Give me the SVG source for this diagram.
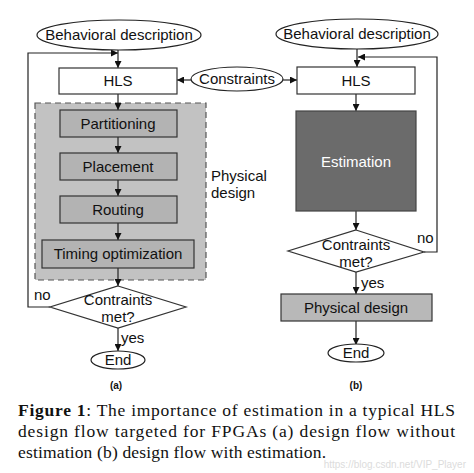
<svg xmlns="http://www.w3.org/2000/svg" width="474" height="473" viewBox="0 0 474 473">
<style>
.lbl{font-family:"Liberation Sans",Arial,sans-serif;font-size:15px;fill:#111;text-anchor:middle}
.ln{stroke:#222;stroke-width:1.2;fill:none}
.ell{fill:#fff;stroke:#222;stroke-width:1.2}
.wbox{fill:#fff;stroke:#333;stroke-width:1.2}
.gbox{fill:#b3b3b3;stroke:#333;stroke-width:1.2}
.cap{font-family:"Liberation Serif","Times New Roman",serif;font-size:17.5px;fill:#111}
</style>
<defs>
<marker id="ah" viewBox="0 0 10 10" refX="10" refY="5" markerWidth="7" markerHeight="7" orient="auto" markerUnits="userSpaceOnUse">
<path d="M0,0 L10,5 L0,10 z" fill="#111"/>
</marker>
</defs>
<rect width="474" height="473" fill="#fff"/>

<!-- Physical design region (a) -->
<g id="physical-region">
<rect x="35" y="103" width="171" height="177" fill="#c2c2c2" stroke="#555" stroke-width="1.2" stroke-dasharray="6,4"/>
<text class="lbl" x="211" y="181" style="text-anchor:start">Physical</text>
<text class="lbl" x="211" y="198" style="text-anchor:start">design</text>
</g>

<g id="connectors">
<!-- (a) -->
<line class="ln" x1="118" y1="50" x2="118" y2="68" marker-end="url(#ah)"/>
<polyline class="ln" points="50,307 28,307 28,53 118,53" marker-end="url(#ah)"/>
<line class="ln" x1="191" y1="80" x2="177" y2="80" marker-end="url(#ah)"/>
<line class="ln" x1="118" y1="94" x2="118" y2="110" marker-end="url(#ah)"/>
<line class="ln" x1="118" y1="137" x2="118" y2="153" marker-end="url(#ah)"/>
<line class="ln" x1="118" y1="180" x2="118" y2="196" marker-end="url(#ah)"/>
<line class="ln" x1="118" y1="223" x2="118" y2="240" marker-end="url(#ah)"/>
<line class="ln" x1="118" y1="268" x2="118" y2="286" marker-end="url(#ah)"/>
<line class="ln" x1="118" y1="328" x2="118" y2="351" marker-end="url(#ah)"/>
<!-- (b) -->
<line class="ln" x1="357" y1="49" x2="357" y2="67" marker-end="url(#ah)"/>
<line class="ln" x1="283" y1="80" x2="297" y2="80" marker-end="url(#ah)"/>
<polyline class="ln" points="424,252 437,252 437,57 358,57" marker-end="url(#ah)"/>
<line class="ln" x1="356" y1="94" x2="356" y2="111" marker-end="url(#ah)"/>
<line class="ln" x1="356" y1="211" x2="356" y2="230" marker-end="url(#ah)"/>
<line class="ln" x1="356" y1="272" x2="356" y2="294" marker-end="url(#ah)"/>
<line class="ln" x1="356" y1="321" x2="356" y2="345" marker-end="url(#ah)"/>
<text class="lbl" x="34" y="300" style="text-anchor:start">no</text>
<text class="lbl" x="121" y="343" style="text-anchor:start">yes</text>
<text class="lbl" x="417" y="243" style="text-anchor:start">no</text>
<text class="lbl" x="361" y="288" style="text-anchor:start">yes</text>
</g>

<g id="behav-a"><ellipse class="ell" cx="119" cy="35" rx="82" ry="15"/><text class="lbl" x="119" y="40">Behavioral description</text></g>
<g id="hls-a"><rect class="wbox" x="59" y="68" width="118" height="26"/><text class="lbl" x="118" y="86">HLS</text></g>
<g id="constraints"><ellipse class="ell" cx="237" cy="79" rx="46" ry="12"/><text class="lbl" x="237" y="84">Constraints</text></g>
<g id="partitioning"><rect class="gbox" x="60" y="110" width="117" height="27"/><text class="lbl" x="118" y="129">Partitioning</text></g>
<g id="placement"><rect class="gbox" x="60" y="153" width="117" height="27"/><text class="lbl" x="118" y="172">Placement</text></g>
<g id="routing"><rect class="gbox" x="60" y="196" width="117" height="27"/><text class="lbl" x="118" y="215">Routing</text></g>
<g id="timing"><rect class="gbox" x="42" y="240" width="152" height="28"/><text class="lbl" x="118" y="259">Timing optimization</text></g>
<g id="decision-a"><polygon points="118,286 186,307 118,328 50,307" fill="#fff" stroke="#333" stroke-width="1.2"/><text class="lbl" x="118" y="305">Contraints</text><text class="lbl" x="118" y="322">met?</text></g>
<g id="end-a"><ellipse class="ell" cx="118" cy="360" rx="27" ry="9"/><text class="lbl" x="118" y="365">End</text></g>
<text class="lbl" x="116" y="389" style="font-size:10px;font-weight:bold">(a)</text>

<g id="behav-b"><ellipse class="ell" cx="357" cy="34" rx="81" ry="15"/><text class="lbl" x="357" y="39">Behavioral description</text></g>
<g id="hls-b"><rect class="wbox" x="297" y="67" width="118" height="27"/><text class="lbl" x="356" y="86">HLS</text></g>
<g id="estimation"><rect x="296" y="111" width="120" height="100" fill="#6b6b6b" stroke="#444" stroke-width="1.2"/><text class="lbl" x="356" y="167" style="fill:#fff">Estimation</text></g>
<g id="decision-b"><polygon points="356,230 424,252 356,272 288,251" fill="#fff" stroke="#333" stroke-width="1.2"/><text class="lbl" x="356" y="250">Contraints</text><text class="lbl" x="356" y="267">met?</text></g>
<g id="physical-b"><rect x="281" y="294" width="151" height="27" fill="#b8b8b8" stroke="#333" stroke-width="1.2"/><text class="lbl" x="356" y="313">Physical design</text></g>
<g id="end-b"><ellipse class="ell" cx="356" cy="353" rx="28" ry="9"/><text class="lbl" x="356" y="358">End</text></g>
<text class="lbl" x="356" y="389" style="font-size:10px;font-weight:bold">(b)</text>

<g id="caption">
<text class="cap" x="18" y="416" textLength="437" lengthAdjust="spacing"><tspan font-weight="bold">Figure 1</tspan>: The importance of estimation in a typical HLS</text>
<text class="cap" x="18" y="437" textLength="437" lengthAdjust="spacing">design flow targeted for FPGAs (a) design flow without</text>
<text class="cap" x="18" y="458" textLength="308" lengthAdjust="spacing">estimation (b) design flow with estimation.</text>
</g>
<text x="466" y="468" style="font-family:'Liberation Sans',sans-serif;font-size:10px;fill:#dcdcdc;text-anchor:end">https://blog.csdn.net/VIP_Player</text>
</svg>
